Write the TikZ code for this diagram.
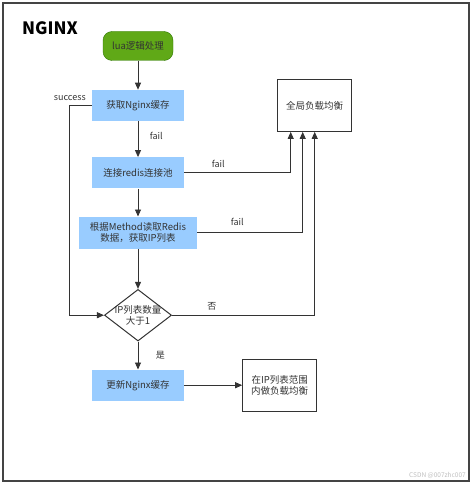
\documentclass[tikz,border=0pt]{standalone}
\usepackage{fontspec}
\setmainfont{Noto Sans CJK SC}
\usetikzlibrary{arrows.meta,positioning,shapes.geometric}
\definecolor{boxblue}{HTML}{99CCFF}
\definecolor{startgreen}{HTML}{60A917}
\definecolor{startborder}{HTML}{2D7600}
\definecolor{linegray}{HTML}{333333}
\definecolor{textgray}{HTML}{333333}
\definecolor{framegray}{HTML}{444444}
\begin{document}
\begin{tikzpicture}[
  x=1pt,y=-1pt,
  font=\fontsize{9.5}{11.5}\selectfont,
  box/.style={fill=boxblue,text=textgray,align=center,minimum width=92pt,minimum height=31pt,inner sep=2pt},
  plain/.style={draw=linegray,line width=1pt,fill=white,text=textgray,align=center,minimum width=74pt,minimum height=52pt},
  start/.style={fill=startgreen,draw=startborder,rounded corners=9pt,text=textgray,minimum width=70pt,minimum height=29pt},
  decision/.style={diamond,draw=linegray,line width=1pt,fill=white,text=textgray,align=center,aspect=1.3,inner xsep=-3pt,inner ysep=0pt,minimum width=66pt,minimum height=51pt},
  arrow/.style={-{Triangle[length=7pt,width=6pt]},draw=linegray,line width=0.9pt},
  tag/.style={font=\fontsize{9}{10}\selectfont,text=textgray}
]
\useasboundingbox (0,0) rectangle (474,487);
\draw[framegray,line width=2pt] (3,3) rectangle (469,481);
\node[font=\fontsize{17}{20}\selectfont\bfseries,anchor=west,inner sep=0pt] (title) at (22,28) {NGINX};
% main column
\node[start] (lua) at (138,46) {lua逻辑处理};
\node[box,below=29pt of lua] (getcache) {获取Nginx缓存};
\node[box,below=36pt of getcache] (redis) {连接redis连接池};
\node[box,below=28pt of redis,minimum width=118pt,minimum height=32pt] (method) {根据Method读取Redis\\数据，获取IP列表};
\node[decision,below=40pt of method] (check) {IP列表数量\\大于1};
\node[box,below=28pt of check] (update) {更新Nginx缓存};
% targets
\node[plain,right=58pt of update] (range) {在IP列表范围\\内做负载均衡};
\node[plain,right=93pt of getcache] (global) {全局负载均衡};
\node[font=\fontsize{6.5}{7}\selectfont,text=gray!50,anchor=south east,inner sep=1pt] (mark) at (467,480) {CSDN @007zhc007};
% connectors
\draw[arrow] (lua)--(getcache);
\draw[arrow] (getcache)--node[tag,right=8pt,pos=0.4]{fail}(redis);
\draw[arrow] (redis)--(method);
\draw[arrow] (method)--(check);
\draw[arrow] (check)--node[tag,right=14pt]{是}(update);
\draw[arrow] (update)--(range);
\draw[arrow] (redis.east) -| node[tag,above=1pt,pos=0.16]{fail} ([xshift=-24pt]global.south);
\draw[arrow] (method.east) -| node[tag,above=3pt,pos=0.19]{fail} ([xshift=-12pt]global.south);
\draw[arrow] (check.east) -| node[tag,above=1pt,pos=0.14]{否} (global.south);
\draw[arrow] (getcache.west) -- ++(-22pt,0) node[tag,above=1pt]{success} |- (check.west);
\end{tikzpicture}
\end{document}
